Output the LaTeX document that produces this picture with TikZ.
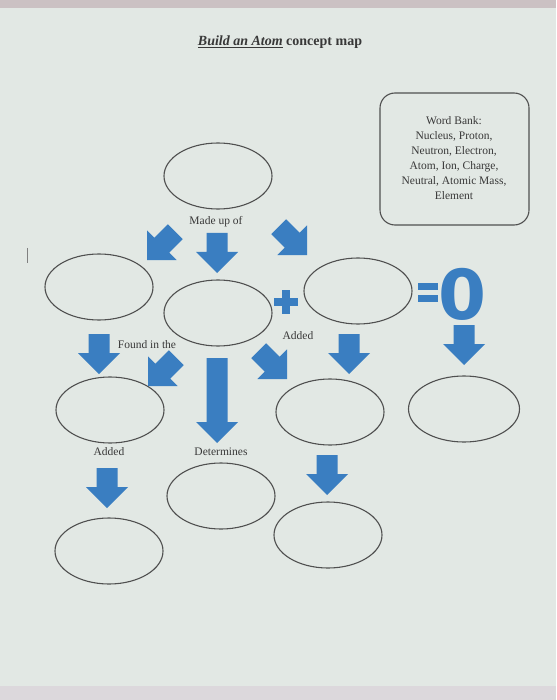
\documentclass[tikz,border=0pt]{standalone}
\usepackage{fontspec}
\setmainfont{Liberation Serif}
\newfontfamily\zerofont{DejaVu Sans}
\usetikzlibrary{shapes.geometric}
\definecolor{bg}{HTML}{E2E8E4}
\definecolor{topband}{HTML}{CBC1C3}
\definecolor{botband}{HTML}{DCD8DC}
\definecolor{ablue}{HTML}{3A7EC1}
\definecolor{ink}{HTML}{383838}
\definecolor{eline}{HTML}{505050}
\begin{document}
\begin{tikzpicture}[x=1pt,y=-1pt,
  oval/.style={draw=eline, line width=1.1pt, ellipse, minimum width=108pt, minimum height=66pt, inner sep=0pt},
  lbl/.style={text=ink, font=\fontsize{11.5}{13}\selectfont, inner sep=0pt},
  pics/barrow/.style={code={\fill[ablue] (-10.5,-#1) -- (10.5,-#1) -- (10.5,-21) -- (21,-21) -- (0,0) -- (-21,-21) -- (-10.5,-21) -- cycle;}}
]
\useasboundingbox (0,0) rectangle (556,700);
\fill[bg] (0,0) rectangle (556,700);
\fill[topband] (0,0) rectangle (556,8);
\fill[botband] (0,686) rectangle (556,700);
\draw[gray, line width=1pt] (27,248) -- (27,263);

% title
\node[text=ink, font=\fontsize{14}{16}\selectfont\bfseries, inner sep=0pt] (title) at (280,42)
  {\underline{\textit{Build an Atom}} concept map};

% word bank
\draw[eline, line width=1.1pt, rounded corners=15pt] (380,93) rectangle (529,225);
\node[lbl, align=center, font=\fontsize{11.5}{15}\selectfont] (bank) at (454,158)
  {Word Bank:\\Nucleus, Proton,\\Neutron, Electron,\\Atom, Ion, Charge,\\Neutral, Atomic Mass,\\Element};

% ellipses
\node[oval] (e1) at (218,176) {};
\node[oval] (e2) at (99,287) {};
\node[oval] (e3) at (218,313) {};
\node[oval] (e4) at (358,291) {};
\node[oval] (e5) at (110,410) {};
\node[oval] (e6) at (330,412) {};
\node[oval, minimum width=111pt] (e7) at (464,409) {};
\node[oval] (e8) at (221,496) {};
\node[oval] (e9) at (109,551) {};
\node[oval] (e10) at (328,535) {};

% labels
\node[lbl] (madeup) at (216,222) {Made up of};
\node[lbl] (found) at (147,345) {Found in the};
\node[lbl] (added1) at (298,336) {Added};
\node[lbl] (added2) at (109,452) {Added};
\node[lbl] (determ) at (221,452) {Determines};

% plus and equals
\fill[ablue] (274,298) rectangle (298,306);
\fill[ablue] (282,290) rectangle (290,314);
\fill[ablue] (418,283) rectangle (438,290);
\fill[ablue] (418,295) rectangle (438,302);
\node[text=ablue, font=\zerofont\bfseries\fontsize{69}{69}\selectfont, inner sep=0pt] (zero) at (462,294) {0};

% down arrows (tip positions)
\pic at (217,273) {barrow=40};
\pic at (99,374) {barrow=40};
\pic at (217,443) {barrow=85};
\pic at (349,374) {barrow=40};
\pic at (464,365) {barrow=40};
\pic at (107,508) {barrow=40};
\pic at (327,495) {barrow=40};

% diagonal arrows
\pic[rotate=-45] at (147,260) {barrow=40};
\pic[rotate=45] at (307,255) {barrow=40};
\pic[rotate=-45] at (148,386) {barrow=40};
\pic[rotate=45] at (287,379) {barrow=40};
\end{tikzpicture}
\end{document}
